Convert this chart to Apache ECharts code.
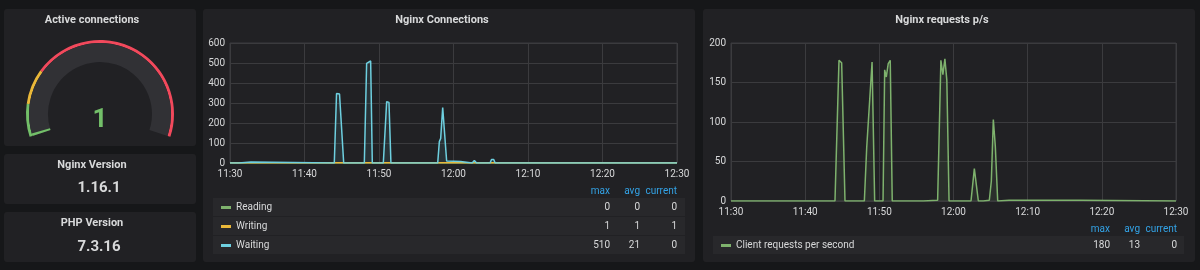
<!DOCTYPE html>
<html>
<head>
<meta charset="utf-8">
<title>Nginx dashboard</title>
<script src="https://cdn.jsdelivr.net/npm/echarts@6/dist/echarts.min.js"></script>
<style>
    html, body { margin: 0; padding: 0; background: #161719; }
    #main { width: 1200px; height: 270px; }
</style>
</head>
<body>
<div id="main"></div>
<script>
// x values are minutes after 11:30
var timeTicks = ['11:30', '11:40', '11:50', '12:00', '12:10', '12:20', '12:30'];

var readingPoints = [[0, 0], [60, 0]];
var writingPoints = [[0, 1], [60, 1]];
var waitingPoints = [
    [0, 0], [1.2, 0], [1.3, 5], [2.8, 5], [2.9, 0],
    [14.0, 0], [14.3, 348], [14.7, 345], [14.9, 335], [15.26, 0],
    [18.03, 0], [18.34, 498], [18.57, 507], [18.88, 510], [19.1, 0],
    [20.58, 0], [21.03, 307], [21.34, 303], [21.6, 0],
    [24.1, 0], [24.3, 7], [24.5, 0],
    [27.88, 0], [28.1, 107], [28.28, 123], [28.55, 277], [28.77, 273], [29.08, 10], [30.96, 8], [31.1, 0],
    [32.5, 0], [32.8, 13], [33.1, 0],
    [34.9, 0], [35.1, 17], [35.4, 17], [35.6, 0],
    [60, 0]
];
var requestPoints = [
    [0, 0], [14.02, 0], [14.56, 178], [14.92, 175], [15.37, 0],
    [17.98, 0], [18.3, 68], [18.43, 70], [19.02, 176], [19.37, 0],
    [20.5, 0], [20.72, 166], [20.94, 157], [21.2, 174], [21.47, 178], [21.74, 0],
    [25.93, 0], [26.0, 1], [27.86, 1], [28.3, 178], [28.57, 160], [28.84, 180], [29.1, 153], [29.4, 0],
    [32.36, 0], [32.81, 41], [33.35, 0], [34.0, 0], [34.1, 1],
    [34.83, 1], [35.1, 25], [35.37, 103], [35.64, 69], [35.96, 0], [36.1, 1],
    [37.5, 1], [37.6, 0], [37.7, 1], [38.7, 1], [38.8, 0], [38.9, 1],
    [43.2, 1], [43.3, 0], [43.4, 1], [47.1, 1], [47.2, 0], [60, 0]
];

var connNames = ['Reading', 'Writing', 'Waiting'];
var connColors = ['#7eb26d', '#eab839', '#6ed0e0'];
var connMax = [0, 1, 510];
var connAvg = [0, 1, 21];
var connCur = [0, 1, 0];

var reqNames = ['Client requests per second'];
var reqColors = ['#7eb26d'];
var reqMax = [180];
var reqAvg = [13];
var reqCur = [0];

var activeConnections = 1;
var nginxVersion = '1.16.1';
var phpVersion = '7.3.16';

var myChart = echarts.init(document.getElementById('main'));

var FONT = 'Roboto, "Noto Sans", sans-serif';
var panelBg = '#212124';
var gridColor = '#3b3b3e';
var textColor = '#d8d9da';

function txt(text, x, y, size, bold, color, align) {
    return {
        type: 'text',
        z: 10,
        style: {
            text: text,
            x: x,
            y: y,
            fill: color || textColor,
            font: (bold ? 'bold ' : '') + size + 'px ' + FONT,
            align: align || 'center',
            textAlign: align || 'center',
            verticalAlign: 'middle',
            textVerticalAlign: 'middle'
        }
    };
}
function box(x, y, w, h, color, r) {
    return {
        type: 'rect',
        z: -10,
        shape: { x: x, y: y, width: w, height: h, r: r || 0 },
        style: { fill: color }
    };
}

var graphics = [
    box(4, 9, 192, 137, panelBg, 3),
    box(4, 154, 192, 50, panelBg, 3),
    box(4, 212, 192, 50, panelBg, 3),
    box(203, 9, 492, 253, panelBg, 3),
    box(703, 9, 492, 253, panelBg, 3),
    txt('Active connections', 92, 20, 11, true),
    txt('Nginx Version', 92, 165, 11, true),
    txt(nginxVersion, 99, 188, 15, true),
    txt('PHP Version', 92, 223, 11, true),
    txt(phpVersion, 99, 247, 15, true),
    txt('Nginx Connections', 442, 20, 11, true),
    txt('Nginx requests p/s', 942, 20, 11, true)
];

// legend tables
function legendTable(names, colors, maxs, avgs, curs, left, right, headerY, rowY, cols) {
    graphics.push(txt('max', cols[0], headerY, 10, false, '#33a2e5', 'right'));
    graphics.push(txt('avg', cols[1], headerY, 10, false, '#33a2e5', 'right'));
    graphics.push(txt('current', cols[2], headerY, 10, false, '#33a2e5', 'right'));
    names.forEach(function(n, i) {
        var y = rowY + i * 19;
        graphics.push(box(left, y - 9, right - left, 18, '#28282b', 0));
        graphics.push({
            type: 'rect', z: 10,
            shape: { x: left + 8, y: y - 1, width: 10, height: 3 },
            style: { fill: colors[i] }
        });
        graphics.push(txt(n, left + 23, y, 10, false, textColor, 'left'));
        graphics.push(txt(String(maxs[i]), cols[0], y, 10, false, textColor, 'right'));
        graphics.push(txt(String(avgs[i]), cols[1], y, 10, false, textColor, 'right'));
        graphics.push(txt(String(curs[i]), cols[2], y, 10, false, textColor, 'right'));
    });
}
legendTable(connNames, connColors, connMax, connAvg, connCur, 213, 685, 191, 207, [610, 640, 677]);
legendTable(reqNames, reqColors, reqMax, reqAvg, reqCur, 713, 1184, 229, 245, [1110, 1140, 1177]);

function xAxisCfg(idx) {
    return {
        gridIndex: idx,
        type: 'value',
        min: 0,
        max: 60,
        interval: 10,
        axisLine: { show: false },
        axisTick: { show: false },
        splitLine: { show: true, lineStyle: { color: gridColor, width: 1 } },
        axisLabel: {
            color: textColor, fontSize: 10, fontFamily: FONT, margin: 6,
            formatter: function(v) { return timeTicks[Math.round(v / 10)]; }
        }
    };
}
function yAxisCfg(idx, max, interval) {
    return {
        gridIndex: idx,
        type: 'value',
        min: 0,
        max: max,
        interval: interval,
        axisLine: { show: false },
        axisTick: { show: false },
        splitLine: { show: true, lineStyle: { color: gridColor, width: 1 } },
        axisLabel: { color: textColor, fontSize: 10, fontFamily: FONT, margin: 5 }
    };
}
function lineSeries(name, color, data, idx) {
    return {
        name: name,
        type: 'line',
        xAxisIndex: idx,
        yAxisIndex: idx,
        data: data,
        showSymbol: false,
        symbol: 'none',
        lineStyle: { color: color, width: 1.5 },
        itemStyle: { color: color },
        areaStyle: { color: color, opacity: 0.1 }
    };
}

var option = {
    backgroundColor: '#161719',
    animation: false,
    graphic: { elements: graphics },
    grid: [
        { left: 230, right: 523, top: 43, bottom: 107, show: true, borderColor: gridColor, borderWidth: 1 },
        { left: 731, right: 24, top: 43, bottom: 69, show: true, borderColor: gridColor, borderWidth: 1 }
    ],
    xAxis: [xAxisCfg(0), xAxisCfg(1)],
    yAxis: [yAxisCfg(0, 600, 100), yAxisCfg(1, 200, 50)],
    series: [
        {
            type: 'gauge',
            center: [100, 114],
            radius: 74,
            startAngle: 198,
            endAngle: -18,
            min: 0,
            max: 100,
            axisLine: { lineStyle: { width: 3, color: [[0.12, '#73bf69'], [0.25, '#eab839'], [1, '#f2495c']] } },
            splitLine: { show: false },
            axisTick: { show: false },
            axisLabel: { show: false },
            pointer: { show: false },
            title: { show: false },
            detail: { show: false },
            data: [{ value: activeConnections }]
        },
        {
            type: 'gauge',
            center: [100, 114],
            radius: 71,
            startAngle: 198,
            endAngle: -18,
            min: 0,
            max: 100,
            axisLine: { lineStyle: { width: 19, color: [[1, '#313135']] } },
            progress: { show: true, width: 19, itemStyle: { color: '#73bf69' } },
            splitLine: { show: false },
            axisTick: { show: false },
            axisLabel: { show: false },
            pointer: { show: false },
            title: { show: false },
            detail: {
                show: true,
                offsetCenter: [0, 6],
                fontSize: 26,
                fontWeight: 'bold',
                fontFamily: FONT,
                color: '#73bf69'
            },
            data: [{ value: activeConnections }]
        },
        lineSeries('Reading', connColors[0], readingPoints, 0),
        lineSeries('Writing', connColors[1], writingPoints, 0),
        lineSeries('Waiting', connColors[2], waitingPoints, 0),
        lineSeries('Client requests per second', reqColors[0], requestPoints, 1)
    ]
};

myChart.setOption(option);
</script>
</body>
</html>
